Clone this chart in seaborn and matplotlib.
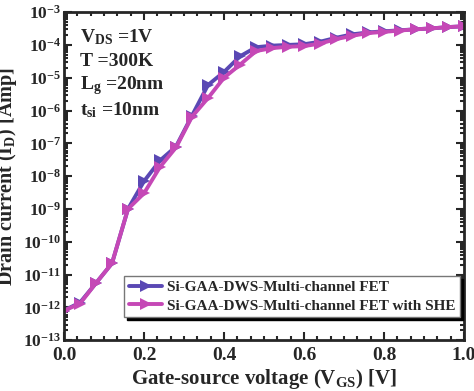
import numpy as np
import pandas as pd
import seaborn as sns
import matplotlib
matplotlib.use('Agg')
import matplotlib.pyplot as plt
from matplotlib.ticker import AutoMinorLocator, LogLocator, NullFormatter

# gate voltage sweep (V)
vgs = [0.00, 0.04, 0.08, 0.12, 0.16, 0.20, 0.24, 0.28, 0.32, 0.36, 0.40, 0.44, 0.48,
       0.52, 0.56, 0.60, 0.64, 0.68, 0.72, 0.76, 0.80, 0.84, 0.88, 0.92, 0.96, 1.00]

# drain current (A)
id_fet = [8e-13, 1.4e-12, 5.5e-12, 2.2e-11, 1.0e-9, 7.0e-9, 3.0e-8, 8.0e-8, 7.0e-7, 6.0e-6,
          1.5e-5, 4.5e-5, 8.5e-5, 9.5e-5, 1.0e-4, 1.05e-4, 1.25e-4, 1.65e-4, 2.1e-4, 2.4e-4,
          2.6e-4, 2.8e-4, 3.0e-4, 3.2e-4, 3.5e-4, 3.7e-4]
id_she = [8e-13, 1.3e-12, 5.5e-12, 2.2e-11, 1.0e-9, 3.0e-9, 1.9e-8, 7.5e-8, 6.5e-7, 2.4e-6,
          1.0e-5, 2.5e-5, 6.5e-5, 8.0e-5, 8.8e-5, 9.2e-5, 1.1e-4, 1.5e-4, 1.9e-4, 2.3e-4,
          2.5e-4, 2.75e-4, 3.0e-4, 3.2e-4, 3.5e-4, 3.7e-4]

labels = ['Si-GAA-DWS-Multi-channel FET', 'Si-GAA-DWS-Multi-channel FET with SHE']
colors = ['#5a48b4', '#c548b6']

sns.set_style('ticks')
plt.rcParams['font.family'] = ['Liberation Serif', 'DejaVu Serif']
plt.rcParams['font.weight'] = 'bold'
plt.rcParams['axes.labelweight'] = 'bold'
plt.rcParams['mathtext.fontset'] = 'custom'
plt.rcParams['mathtext.rm'] = 'Liberation Serif:bold'
plt.rcParams['mathtext.it'] = 'Liberation Serif:bold'
plt.rcParams['mathtext.bf'] = 'Liberation Serif:bold'
plt.rcParams['mathtext.default'] = 'rm'

df = pd.DataFrame({
    'vgs': vgs * 2,
    'id': id_fet + id_she,
    'device': [labels[0]] * len(vgs) + [labels[1]] * len(vgs),
})

fig = plt.figure(figsize=(4.74, 3.91), dpi=100)
ax = fig.add_axes([0.135, 0.130, 0.844, 0.839])

sns.lineplot(data=df, x='vgs', y='id', hue='device', style='device',
             palette=dict(zip(labels, colors)), markers={l: '>' for l in labels},
             dashes=False, linewidth=2.8, markersize=9, markeredgewidth=0, ax=ax)

ax.set_yscale('log')
ax.set_xlim(0, 1.0)
ax.set_ylim(1e-13, 1e-3)
ax.set_xticks(np.arange(0, 1.01, 0.2))
ax.set_xticklabels(['0.0', '0.2', '0.4', '0.6', '0.8', '1.0'])
ax.xaxis.set_minor_locator(AutoMinorLocator(6))
ax.yaxis.set_major_locator(LogLocator(base=10, numticks=20))
ax.yaxis.set_minor_locator(LogLocator(base=10, subs=np.arange(2, 10) * 1.0, numticks=20))
ax.yaxis.set_minor_formatter(NullFormatter())
ax.tick_params(which='both', direction='in', top=True, right=True, width=1.5)
ax.tick_params(axis='x', labelsize=14, pad=5)
ax.tick_params(axis='y', labelsize=12.5, pad=2)
ax.tick_params(which='major', length=6)
ax.tick_params(which='minor', length=3)
for s in ax.spines.values():
    s.set_linewidth(2)

ax.set_xlabel('Gate-source voltage (V$_{GS}$) [V]', fontsize=15, labelpad=2)
ax.set_ylabel('Drain current (I$_D$) [Amp]', fontsize=14.5)
ax.yaxis.set_label_coords(-0.112, 0.5)

ax.text(0.04, 0.925, 'V$_{DS}$ =1V', transform=ax.transAxes, fontsize=14, va='center')
ax.text(0.04, 0.85, 'T =300K', transform=ax.transAxes, fontsize=14, va='center')
ax.text(0.04, 0.775, 'L$_g$ =20nm', transform=ax.transAxes, fontsize=14, va='center')
ax.text(0.04, 0.70, 't$_{si}$ =10nm', transform=ax.transAxes, fontsize=14, va='center')

leg = ax.legend(loc='lower right', bbox_to_anchor=(0.99, 0.07), fontsize=11,
                frameon=True, fancybox=False, edgecolor='#777777', framealpha=1,
                shadow={'color': 'black', 'alpha': 1}, handlelength=2.2,
                borderpad=0.3, labelspacing=0.3, handletextpad=0.3, borderaxespad=0)
leg.set_title(None)

fig.savefig('out.png', dpi=100)
